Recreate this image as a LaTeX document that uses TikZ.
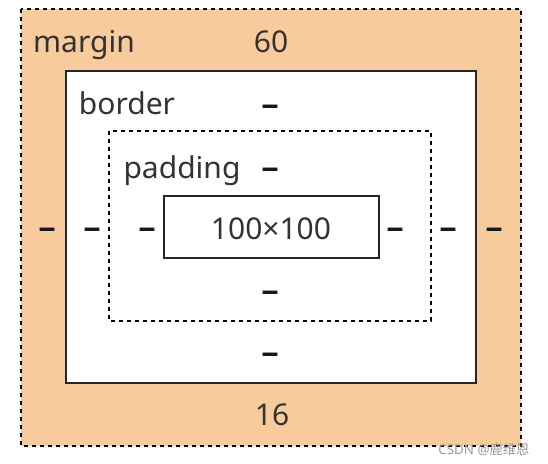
\documentclass[tikz,border=0pt]{standalone}
\usepackage{fontspec}
\setmainfont{Noto Sans}
\newfontfamily\cjk{Noto Sans CJK SC}
\definecolor{marginfill}{HTML}{F8CB9C}
\definecolor{txt}{HTML}{333333}
\begin{document}
\begin{tikzpicture}[x=0.75pt,y=-0.75pt,
  lbl/.style={text=txt,font=\fontsize{22.5pt}{26pt}\selectfont,inner sep=0pt,anchor=base},
  dsh/.style={text=black!90,font=\fontsize{25pt}{28pt}\selectfont\addfontfeature{FakeBold=2},inner sep=0pt}]
\useasboundingbox (0,0) rectangle (548,463);
\fill[white] (0,0) rectangle (548,463);
\draw[fill=marginfill,dashed,line width=0.9pt] (21,9) rectangle (521,446);
\draw[fill=white,line width=1pt,draw=black!85] (66,71) rectangle (476,383);
\draw[dashed,line width=0.8pt] (109,131) rectangle (431,321);
\draw[line width=0.8pt,draw=black!85] (164,196) rectangle (379,258);
\node[lbl] (mg) at (84,53) {margin};
\node[lbl] (sixty) at (271,53) {60};
\node[lbl] (bd) at (127,115) {border};
\node[lbl] (pd) at (182,178) {padding};
\node[lbl] (ct) at (271,239) {100×100};
\node[lbl] (sixteen) at (272,425) {16};
\node[dsh] (d1) at (270,110) {–};
\node[dsh] (d2) at (270,173) {–};
\node[dsh] (d3) at (270,296) {–};
\node[dsh] (d4) at (270,358) {–};
\node[dsh] (l1) at (47,233) {–};
\node[dsh] (l2) at (92,233) {–};
\node[dsh] (l3) at (147,233) {–};
\node[dsh] (r1) at (395,233) {–};
\node[dsh] (r2) at (448,233) {–};
\node[dsh] (r3) at (494,233) {–};
\node[text=black!40,font=\fontsize{10pt}{11pt}\selectfont,inner sep=0pt] (wm) at (484,449) {CSDN @{\cjk 鹿维恩}};
\end{tikzpicture}
\end{document}
